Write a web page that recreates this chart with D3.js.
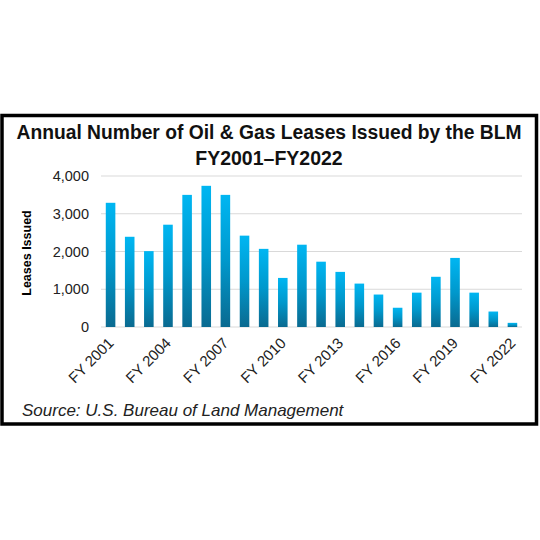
<!DOCTYPE html>
<meta charset="utf-8">
<script src="https://d3js.org/d3.v7.min.js"></script>
<style>
body { margin: 0; background: #fff; }
svg { display: block; font-family: "Liberation Sans", Arial, sans-serif; }
</style>
<svg width="540" height="540"></svg>
<script>
const years = d3.range(2001, 2023).map(y => 'FY ' + y);
const leases = [3290, 2390, 2010, 2710, 3500, 3740, 3500, 2420, 2070, 1300,
  2180, 1730, 1460, 1150, 860, 510, 910, 1330, 1830, 910, 410, 110];
const yTicks = [0, 1000, 2000, 3000, 4000];
const xLabels = ['FY 2001', 'FY 2004', 'FY 2007', 'FY 2010', 'FY 2013', 'FY 2016', 'FY 2019', 'FY 2022'];

const svg = d3.select('svg');

svg.append('rect')
  .attr('width', 540).attr('height', 540).attr('fill', '#fff');

// gradient per bar, light on top
const grad = svg.append('defs').append('linearGradient')
  .attr('id', 'barGrad')
  .attr('x1', 0).attr('y1', 0).attr('x2', 0).attr('y2', 1);
grad.append('stop').attr('offset', '0%').attr('stop-color', '#00b6f2');
grad.append('stop').attr('offset', '50%').attr('stop-color', '#0098cc');
grad.append('stop').attr('offset', '100%').attr('stop-color', '#0a6a90');

const x = d3.scaleBand().domain(years).range([101, 522]).paddingInner(0.5).paddingOuter(0.25);
const y = d3.scaleLinear().domain([0, 4000]).range([327, 176]);

// gridlines
svg.append('g')
  .selectAll('line')
  .data(yTicks)
  .join('line')
  .attr('x1', 101).attr('x2', 522)
  .attr('y1', d => y(d)).attr('y2', d => y(d))
  .attr('stroke', '#d9d9d9').attr('stroke-width', 1);

// y axis labels
const yAxis = svg.append('g')
  .attr('transform', 'translate(96,0)')
  .call(d3.axisLeft(y).tickValues(yTicks).tickFormat(d3.format(',')).tickSize(0).tickPadding(7));
yAxis.select('.domain').remove();
yAxis.selectAll('text')
  .attr('font-size', 14.5)
  .attr('font-family', '"Liberation Sans", Arial, sans-serif')
  .attr('fill', '#222');

// bars
svg.append('g')
  .selectAll('rect')
  .data(leases)
  .join('rect')
  .attr('x', (d, i) => x(years[i]))
  .attr('width', x.bandwidth())
  .attr('y', d => y(d))
  .attr('height', d => y(0) - y(d))
  .attr('fill', 'url(#barGrad)');

// x labels
svg.append('g')
  .selectAll('text')
  .data(xLabels)
  .join('text')
  .attr('transform', d => `translate(${x(d) + x.bandwidth() / 2 + 4},344) rotate(-45)`)
  .attr('text-anchor', 'end')
  .attr('font-size', 15)
  .attr('fill', '#222')
  .text(d => d);

// axis title
svg.append('text')
  .attr('transform', 'translate(31,253) rotate(-90)')
  .attr('text-anchor', 'middle')
  .attr('font-size', 12.5)
  .attr('font-weight', 'bold')
  .text('Leases Issued');

// title
const title = svg.append('text')
  .attr('text-anchor', 'middle')
  .attr('font-size', 19.5)
  .attr('font-weight', 'bold')
  .attr('fill', '#111');
title.append('tspan').attr('x', 269).attr('y', 139)
  .attr('textLength', 505).attr('lengthAdjust', 'spacingAndGlyphs')
  .text('Annual Number of Oil & Gas Leases Issued by the BLM');
title.append('tspan').attr('x', 269).attr('y', 165).text('FY2001–FY2022');

// source
svg.append('text')
  .attr('x', 22).attr('y', 416)
  .attr('font-size', 17)
  .attr('font-style', 'italic')
  .attr('fill', '#222')
  .text('Source: U.S. Bureau of Land Management');

// frame
svg.append('rect')
  .attr('x', 2).attr('y', 115.5)
  .attr('width', 534.5).attr('height', 308.5)
  .attr('fill', 'none')
  .attr('stroke', '#000')
  .attr('stroke-width', 3.5);
</script>
